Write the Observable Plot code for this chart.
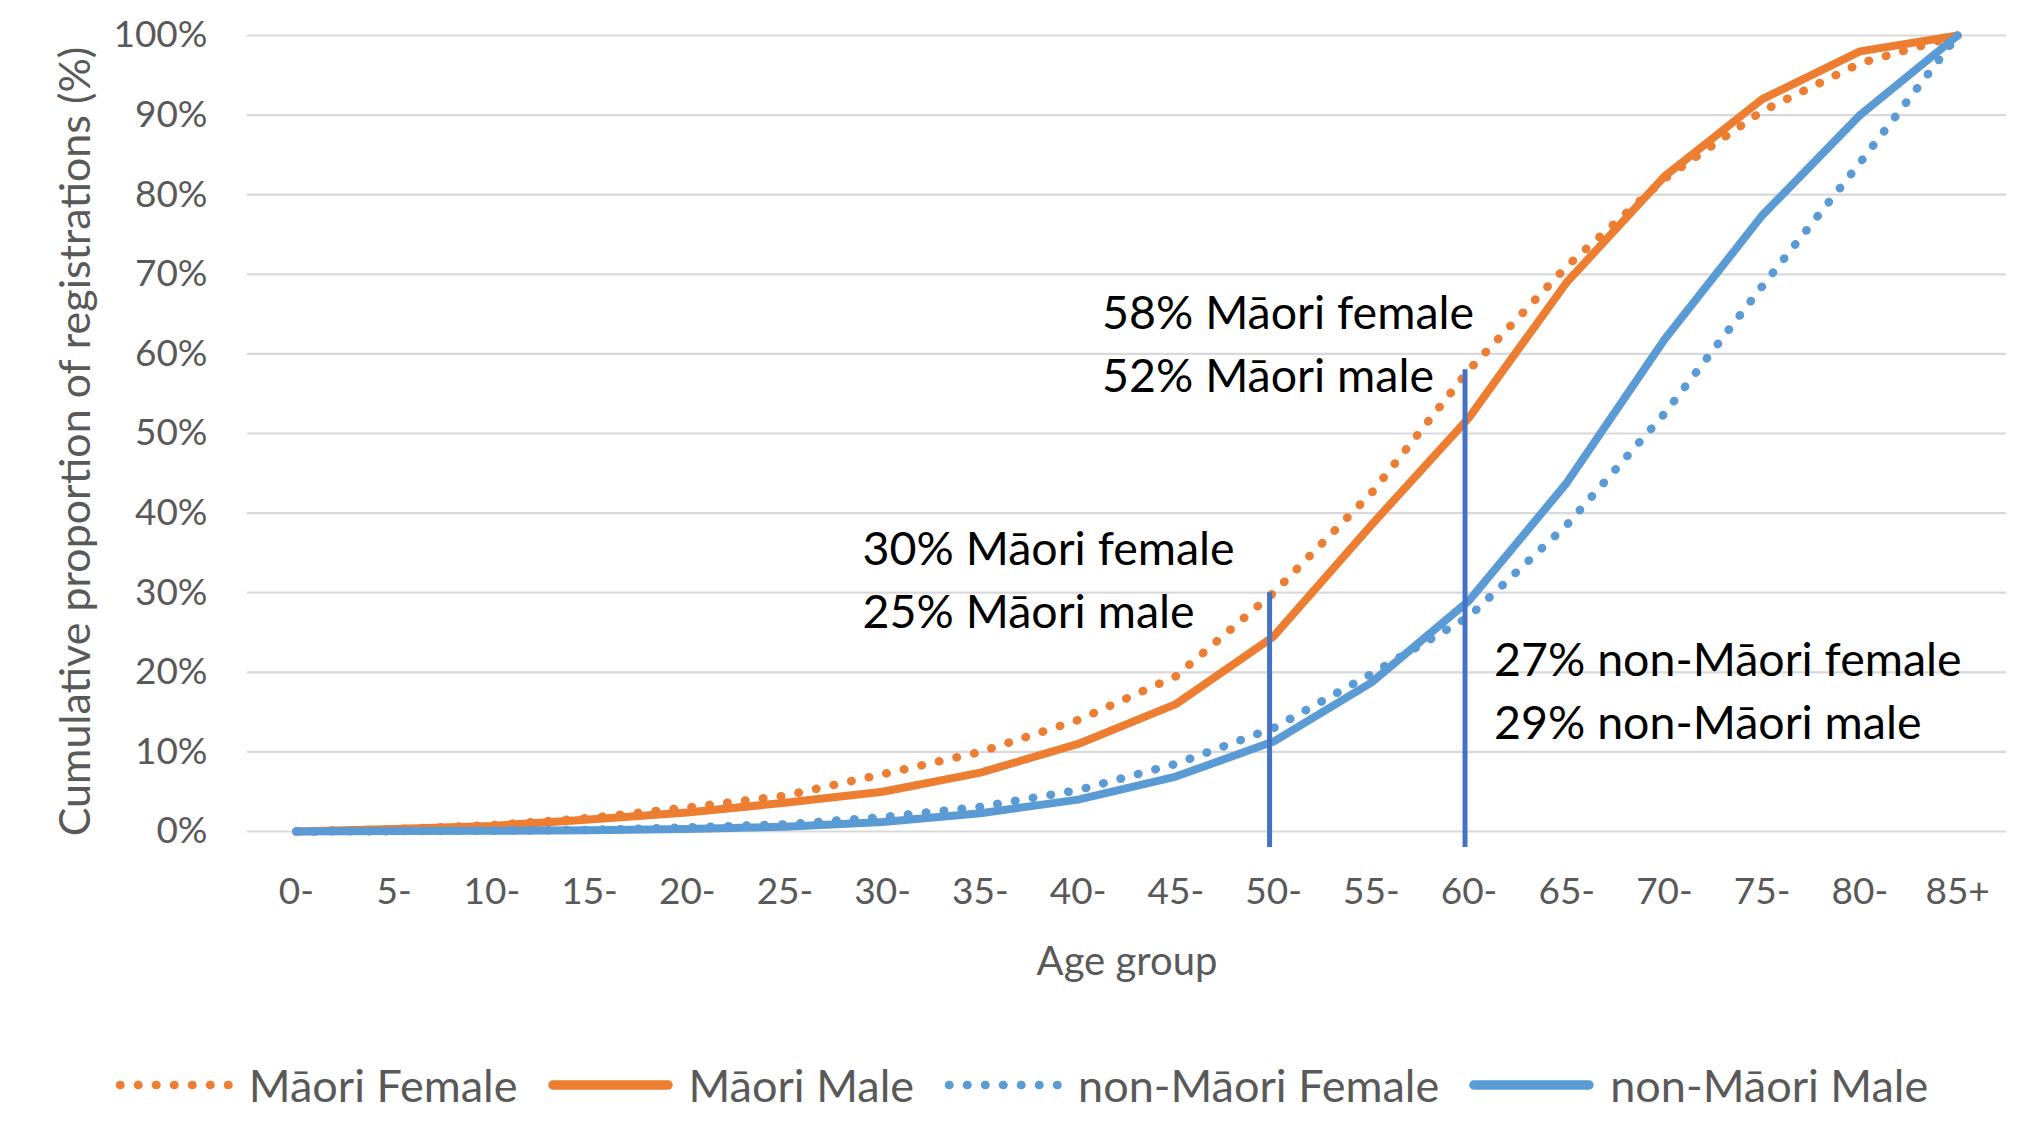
<!DOCTYPE html>
<html><head><meta charset="utf-8">
<script src="https://cdn.jsdelivr.net/npm/d3@7"></script>
<script src="https://cdn.jsdelivr.net/npm/@observablehq/plot@0.6"></script>
<style>
body{margin:0;background:#fff;width:2043px;height:1144px;position:relative;overflow:hidden;font-family:Lato,sans-serif;}
#chart{position:absolute;left:0;top:0;}
#legend{position:absolute;left:0;top:1060px;width:2043px;height:50px;display:flex;align-items:center;justify-content:center;color:#595959;font-size:45px;font-family:Lato,sans-serif;}
.item{display:flex;align-items:center;margin:0 15px;white-space:nowrap;}
.item svg{margin-right:16px;}
</style></head><body>
<div id="chart"></div><div id="legend"></div>
<script>
// ---- data ----
const ages = ["0-","5-","10-","15-","20-","25-","30-","35-","40-","45-","50-","55-","60-","65-","70-","75-","80-","85+"];
const maoriFemale    = [0, 0.3, 0.8, 1.7, 3.0, 4.5, 7.2, 10.0, 14.0, 19.5, 30.0, 42.5, 58.0, 71.0, 82.0, 90.5, 96.5, 100];
const maoriMale      = [0, 0.3, 0.7, 1.5, 2.4, 3.6, 5.0, 7.4, 11.0, 16.0, 24.5, 38.5, 52.0, 69.0, 82.3, 92.0, 98.0, 100];
const nonMaoriFemale = [0, 0.05, 0.1, 0.2, 0.5, 0.9, 1.8, 3.1, 5.2, 8.5, 13.0, 19.8, 27.0, 38.5, 52.5, 68.5, 84.0, 100];
const nonMaoriMale   = [0, 0.05, 0.1, 0.15, 0.3, 0.6, 1.2, 2.3, 4.0, 6.9, 11.3, 18.7, 29.0, 43.8, 61.8, 77.4, 90.0, 100];
const seriesNames = ["Māori Female", "Māori Male", "non-Māori Female", "non-Māori Male"];
const seriesValues = [maoriFemale, maoriMale, nonMaoriFemale, nonMaoriMale];
const yTicks = [0, 10, 20, 30, 40, 50, 60, 70, 80, 90, 100];

// annotation rules (age group, top value, bottom value)
const cutAges = ["50-", "60-"];
const cutTops = [30, 58];
const cutBottom = -2;

// annotation texts (anchor age group, anchor value)
const noteAges = ["60-", "50-", "60-"];
const noteValues = [61.7, 32.1, 18.1];
const noteTexts = ["58% Māori female\n52% Māori male", "30% Māori female\n25% Māori male", "27% non-Māori female\n29% non-Māori male"];

// ---- styles ----
const seriesColors = ["#ED7D31", "#ED7D31", "#5B9BD5", "#5B9BD5"];
const seriesDotted = [true, false, true, false];
const noteDx = [-367, -411, 25];
const W = 2043, H = 1000;

const tidy = seriesNames.map((name, s) => ages.map((age, i) => ({age, value: seriesValues[s][i], series: name})));
const cuts = cutAges.map((age, i) => ({age, top: cutTops[i], bottom: cutBottom}));

const marks = [
  Plot.ruleY(yTicks, {stroke: "#D9D9D9", strokeWidth: 2.2}),
  Plot.axisY({ticks: yTicks, tickFormat: d => d + "%", tickSize: 0, tickPadding: 40, label: null, fill: "#595959", fontSize: 37}),
  Plot.axisX({tickSize: 0, tickPadding: 46, label: null, fill: "#595959", fontSize: 37}),
  Plot.text(["Cumulative proportion of registrations (%)"], {frameAnchor: "left", textAnchor: "middle", rotate: -90, dx: -171, dy: 8, fill: "#595959", fontSize: 43}),
  Plot.text(["Age group"], {frameAnchor: "bottom", dy: 143, fill: "#595959", fontSize: 40}),
];
tidy.forEach((d, s) => {
  marks.push(Plot.line(d, {
    x: "age", y: "value", stroke: seriesColors[s],
    strokeWidth: seriesDotted[s] ? 8.5 : 8,
    strokeDasharray: seriesDotted[s] ? "0.5 17.5" : null,
    strokeLinecap: "round", strokeLinejoin: "round"
  }));
});
marks.push(Plot.ruleX(cuts, {x: "age", y1: "bottom", y2: "top", stroke: "#4472C4", strokeWidth: 5, dx: -4}));
noteTexts.forEach((t, i) => {
  marks.push(Plot.text([{age: noteAges[i], value: noteValues[i], t}], {
    x: "age", y: "value", text: "t", textAnchor: "start", lineAnchor: "middle",
    lineHeight: 1.36, fontSize: 46.5, fill: "#000", dx: noteDx[i]
  }));
});

const chart = Plot.plot({
  width: W, height: H,
  marginLeft: 247, marginRight: 37, marginTop: 35, marginBottom: H - 831,
  style: {fontFamily: "Lato, sans-serif", fontSize: "37px", background: "#fff", overflow: "visible"},
  x: {type: "point", domain: ages, padding: 0.5, round: false},
  y: {domain: [0, 100]},
  marks
});
document.getElementById("chart").appendChild(chart);

// legend
const legend = document.getElementById("legend");
seriesNames.forEach((name, s) => {
  const item = document.createElement("div");
  item.className = "item";
  const dotted = seriesDotted[s];
  const line = dotted
    ? `<line x1="5" x2="114" y1="10" y2="10" stroke="${seriesColors[s]}" stroke-width="8.5" stroke-linecap="round" stroke-dasharray="0.5 17.5"/>`
    : `<line x1="5" x2="120" y1="10" y2="10" stroke="${seriesColors[s]}" stroke-width="9.5" stroke-linecap="round"/>`;
  item.innerHTML = `<svg width="${dotted ? 118 : 125}" height="20">${line}</svg><span>${name}</span>`;
  legend.appendChild(item);
});
</script>
</body></html>
